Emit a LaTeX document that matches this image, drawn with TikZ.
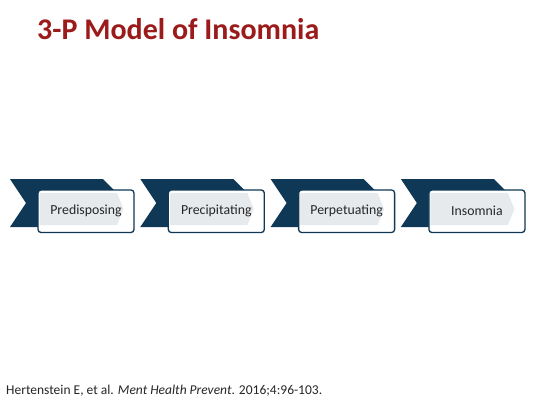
\documentclass[tikz,border=0pt]{standalone}
\usepackage{fontspec}
\setmainfont{Carlito}
\definecolor{navy}{RGB}{14,56,86}
\definecolor{lightgr}{RGB}{230,234,237}
\definecolor{titlered}{RGB}{155,27,27}
\definecolor{txt}{RGB}{38,38,38}
\tikzset{
  darkchev/.style={fill=navy,draw=none},
  stagebox/.style={draw=navy,line width=1.3pt,fill=white,rounded corners=3pt},
  grayarrow/.style={fill=lightgr,draw=none},
  stagelabel/.style={text=txt,font=\fontsize{13.8}{16}\selectfont,inner sep=0pt},
}
\begin{document}
\begin{tikzpicture}[x=1pt,y=-1pt]
\useasboundingbox (0,0) rectangle (540,405);
\fill[white] (0,0) rectangle (540,405);
\node[anchor=base west,inner sep=0pt,text=titlered,font=\fontsize{30}{34}\selectfont\bfseries] (title) at (37,39) {3-P Model of Insomnia};
\foreach \i/\lab/\nm in {0/Predisposing/a,1/Precipitating/b,2/Perpetuating/c,3/Insomnia/d}{
  \pgfmathsetmacro{\xo}{10+130.3*\i}
  \begin{scope}[xshift=\xo pt]
    \path[darkchev] (0,179) -- (93,179) -- (117,203) -- (93,227) -- (0,227) -- (16,203) -- cycle;
    \path[stagebox] (28,190) rectangle (124,232.5);
    \path[grayarrow] (29.5,193) -- (107,193) -- (113.5,209) -- (107,225) -- (29.5,225) -- cycle;
    \node[stagelabel] (\nm) at (76,211) {\lab};
  \end{scope}
}
\node[anchor=base west,inner sep=0pt,text=txt,font=\fontsize{13.5}{15}\selectfont] (cite) at (6,394) {Hertenstein E, et al. \textit{Ment Health Prevent}. 2016;4:96-103.};
\end{tikzpicture}
\end{document}
